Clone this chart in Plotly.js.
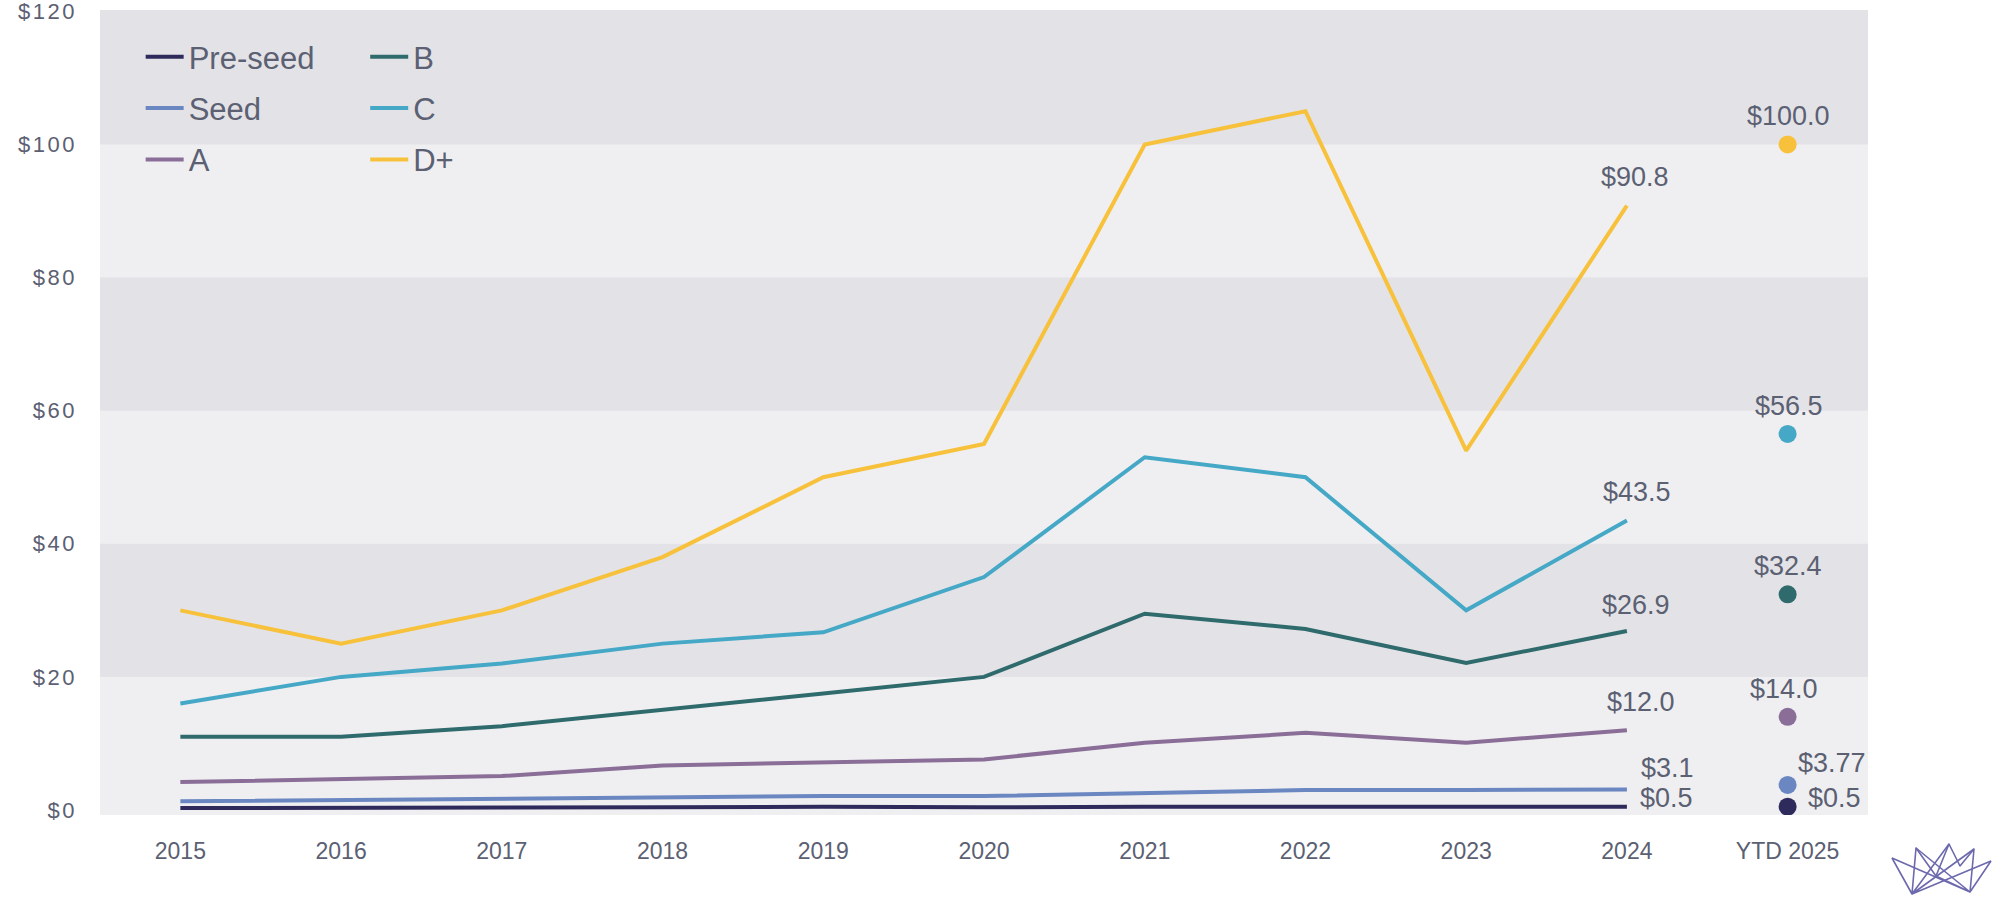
<!DOCTYPE html>
<html>
<head>
<meta charset="utf-8">
<script src="https://cdn.plot.ly/plotly-3.0.1.min.js"></script>
<style>
  html, body { margin: 0; padding: 0; background: #ffffff; }
  #wrap { position: relative; width: 2000px; height: 901px; }
  #chart { width: 2000px; height: 901px; }
  #chart .ytick text { letter-spacing: 2.5px; }
  #logo { position: absolute; left: 1886px; top: 838px; width: 110px; height: 60px; }
</style>
</head>
<body>
<div id="wrap">
  <div id="chart"></div>
  <svg id="logo" viewBox="0 0 110 60">
    <g fill="none" stroke="#6d69ad" stroke-width="1.6" stroke-linejoin="round">
      <path d="M6,20 L26,56 L30,10 L50,38 L63,6 L74,28 L88,11 L84,54 L105,23"/>
      <path d="M6,20 L84,54 M26,56 L63,6 M26,56 L88,11 M26,56 L105,23 M30,10 L84,54 M50,38 L84,54"/>
    </g>
  </svg>
</div>
<script>
// Investment size by stage, $M
const years = ['2015', '2016', '2017', '2018', '2019', '2020', '2021', '2022', '2023', '2024'];
const ytdCategory = 'YTD 2025';

const preSeed = [0.3, 0.3, 0.3, 0.4, 0.5, 0.4, 0.5, 0.5, 0.5, 0.5];
const seed    = [1.3, 1.5, 1.7, 1.9, 2.1, 2.1, 2.5, 3.0, 3.0, 3.1];
const stageA  = [4.2, 4.6, 5.1, 6.7, 7.2, 7.6, 10.1, 11.6, 10.1, 12.0];
const stageB  = [11.0, 11.0, 12.6, 15.0, 17.5, 20.0, 29.5, 27.2, 22.1, 26.9];
const stageC  = [16.0, 20.0, 22.0, 25.0, 26.7, 35.0, 53.0, 50.0, 30.0, 43.5];
const stageD  = [30.0, 25.0, 30.0, 38.0, 50.0, 55.0, 100.0, 105.0, 54.0, 90.8];

// Year-to-date 2025, same stage order
const ytd2025 = [0.5, 3.77, 14.0, 32.4, 56.5, 100.0];

const stageNames = ['Pre-seed', 'Seed', 'A', 'B', 'C', 'D+'];
const yTickVals = [0, 20, 40, 60, 80, 100, 120];
const yTickText = yTickVals.map(v => '$' + v);

const categories = years.concat([ytdCategory]);
const lastIdx = years.length - 1;
const ytdIdx = categories.indexOf(ytdCategory);

const stageSeries = [preSeed, seed, stageA, stageB, stageC, stageD];
const stageColors = ['#2e2b5c', '#6a87c2', '#8a6e98', '#2f6b6d', '#45a8c6', '#f7c13c'];
const legendFor   = ['legend', 'legend', 'legend', 'legend2', 'legend2', 'legend2'];

const textColor = '#5b6072';
const fontFamily = '"Liberation Sans", Arial, sans-serif';

const fmt = v => '$' + (Math.abs(v * 10 - Math.round(v * 10)) < 1e-9 ? v.toFixed(1) : v.toFixed(2));

const traces = [];
stageSeries.forEach((vals, i) => {
  traces.push({
    type: 'scatter', mode: 'lines',
    x: years, y: vals,
    name: stageNames[i],
    legend: legendFor[i],
    legendgroup: 'g' + i,
    line: { color: stageColors[i], width: 4 },
    hoverinfo: 'skip'
  });
});
stageSeries.forEach((vals, i) => {
  traces.push({
    type: 'scatter', mode: 'markers',
    x: [ytdCategory], y: [ytd2025[i]],
    showlegend: false,
    marker: { color: stageColors[i], size: 18 },
    hoverinfo: 'skip'
  });
});

// Value labels: last full year and year-to-date (category axis uses serial index)
const lastShift = [[40, 9], [41, 21], [14, 28], [9, 26], [10, 28], [8, 29]];
const ytdShift  = [[47, 9], [44, 22], [-4, 28], [0, 28], [1, 28], [1, 28]];
const annotations = [];
stageSeries.forEach((vals, i) => {
  annotations.push({
    x: lastIdx, y: vals[lastIdx], xref: 'x', yref: 'y',
    text: fmt(vals[lastIdx]), showarrow: false,
    xshift: lastShift[i][0], yshift: lastShift[i][1],
    font: { family: fontFamily, size: 27, color: textColor }
  });
  annotations.push({
    x: ytdIdx, y: ytd2025[i], xref: 'x', yref: 'y',
    text: fmt(ytd2025[i]), showarrow: false,
    xshift: ytdShift[i][0], yshift: ytdShift[i][1],
    font: { family: fontFamily, size: 27, color: textColor }
  });
});

// Alternating horizontal bands
const bandDark = '#e3e3e7';
const shapes = [[20, 40], [60, 80], [100, 120.2]].map(([a, b]) => ({
  type: 'rect', xref: 'paper', yref: 'y', x0: 0, x1: 1, y0: a, y1: b,
  fillcolor: bandDark, line: { width: 0 }, layer: 'below'
}));

const legendCommon = {
  xanchor: 'left', yanchor: 'top', y: 0.975,
  bgcolor: 'rgba(0,0,0,0)', borderwidth: 0,
  traceorder: 'grouped', tracegroupgap: 8,
  font: { family: fontFamily, size: 31, color: textColor },
  itemwidth: 38
};

const layout = {
  width: 2000, height: 901,
  margin: { l: 100, r: 132, t: 10, b: 86, pad: 0 },
  paper_bgcolor: '#ffffff',
  plot_bgcolor: '#efeff1',
  font: { family: fontFamily, color: textColor },
  showlegend: true,
  legend: Object.assign({ x: 0.023 }, legendCommon),
  legend2: Object.assign({ x: 0.150 }, legendCommon),
  xaxis: {
    type: 'category',
    categoryorder: 'array',
    categoryarray: categories,
    range: [-0.5, categories.length - 0.5],
    showgrid: false, zeroline: false, showline: false, ticks: '',
    ticklabelstandoff: 20,
    tickfont: { family: fontFamily, size: 23, color: textColor },
    fixedrange: true
  },
  yaxis: {
    range: [-0.75, 120.2],
    tickmode: 'array',
    tickvals: yTickVals,
    ticktext: yTickText,
    ticklabeloverflow: 'allow',
    showgrid: false, zeroline: false, showline: false, ticks: '',
    ticklabelstandoff: 22,
    tickfont: { family: fontFamily, size: 22, color: textColor },
    fixedrange: true
  },
  shapes: shapes,
  annotations: annotations,
  hovermode: false
};

Plotly.newPlot('chart', traces, layout, { displayModeBar: false, staticPlot: true });
</script>
</body>
</html>
